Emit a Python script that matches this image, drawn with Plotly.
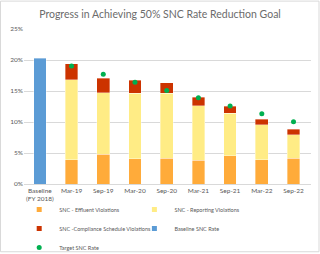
import plotly.graph_objects as go

categories = ["Baseline<br>(FY 2018)", "Mar-19", "Sep-19", "Mar-20", "Sep-20",
              "Mar-21", "Sep-21", "Mar-22", "Sep-22"]
periods = categories[1:]

# values in % of permits
effluent = [3.95, 4.8, 4.05, 4.15, 3.8, 4.55, 3.95, 4.15]
reporting = [12.9, 9.95, 10.6, 10.45, 8.8, 6.9, 5.6, 3.8]
compliance = [2.55, 2.3, 2.05, 1.7, 1.4, 1.1, 0.9, 0.9]
baseline = [20.3]
target = [19.05, 17.7, 16.4, 15.1, 13.9, 12.6, 11.35, 10.05]

y_ticks = [0, 5, 10, 15, 20, 25]
y_labels = [f"{v}%" for v in y_ticks]

FONT = "Lato"
GREY = "#595959"
edge = dict(color="rgba(255,255,255,0.45)", width=0.8)

# name, x, y, colour, legend column
series = [
    ("SNC - Effluent Violations", periods, effluent, "#FFAB3A", "legend"),
    ("SNC - Reporting Violations", periods, reporting, "#FFEC85", "legend2"),
    ("SNC -Compliance Schedule Violations", periods, compliance, "#CC3300", "legend"),
    ("Baseline SNC Rate", categories[:1], baseline, "#5B9BD5", "legend2"),
]

fig = go.Figure()
for name, xs, ys, col, _ in series:
    fig.add_trace(go.Bar(x=xs, y=ys, name=name, showlegend=False,
                         marker=dict(color=col, line=edge)))
fig.add_trace(go.Scatter(x=periods, y=target, name="Target SNC Rate", mode="markers",
                         showlegend=False, marker=dict(color="#00B050", size=5)))

# small square legend keys like the original
for name, xs, ys, col, lg in series:
    fig.add_trace(go.Scatter(x=[None], y=[None], name=name, mode="markers", legend=lg,
                             marker=dict(color=col, size=5, symbol="square")))
fig.add_trace(go.Scatter(x=[None], y=[None], name="Target SNC Rate", mode="markers",
                         legend="legend", marker=dict(color="#00B050", size=5)))

leg = dict(orientation="v", xref="container", yref="container", xanchor="left",
           yanchor="top", y=0.232, font=dict(family=FONT, size=5.5, color=GREY),
           bgcolor="rgba(0,0,0,0)", tracegroupgap=0, traceorder="normal")

fig.update_layout(
    width=320, height=254,
    margin=dict(l=24, r=9, t=29, b=70, autoexpand=False),
    barmode="stack", bargap=0.6,
    paper_bgcolor="white", plot_bgcolor="white",
    font=dict(family=FONT, size=7, color=GREY),
    title=dict(text="Progress in Achieving 50% SNC Rate Reduction Goal",
               x=0.5, xanchor="center", y=0.945, yanchor="middle",
               font=dict(family=FONT, size=10.5, color="#6b6b6b")),
    showlegend=True,
    legend=dict(leg, x=0.06),
    legend2=dict(leg, x=0.42),
    shapes=[dict(type="rect", xref="paper", yref="paper",
                 x0=-23.5 / 287, x1=1 + 8 / 287, y0=-68 / 155.6, y1=1 + 28 / 155.6,
                 line=dict(color="#D9D9D9", width=1), layer="below")],
)
fig.update_xaxes(categoryorder="array", categoryarray=categories, automargin=False,
                 showgrid=False, showline=True, linecolor="#D9D9D9", linewidth=1,
                 ticks="", tickfont=dict(size=6.5, color=GREY), tickangle=0)
fig.update_yaxes(range=[0, 25], tickvals=y_ticks, ticktext=y_labels, automargin=False,
                 showgrid=True, gridcolor="#D9D9D9", gridwidth=1,
                 zeroline=False, showline=False,
                 tickfont=dict(size=6.5, color=GREY))

# drop the browser's default body margin so the figure sits at the page corner
fig.write_html("out.html", config={"displayModeBar": False},
               post_script="document.body.style.margin='0';")
